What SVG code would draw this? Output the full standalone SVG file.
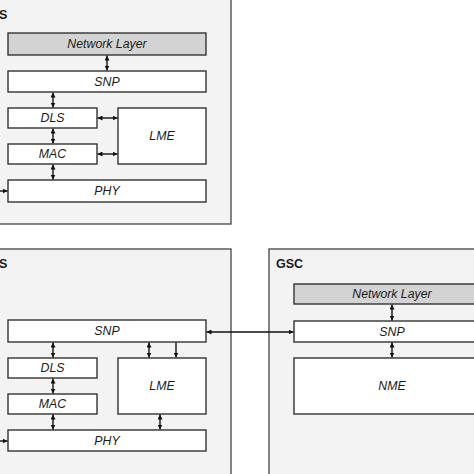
<svg xmlns="http://www.w3.org/2000/svg" width="474" height="474" viewBox="0 0 474 474">
<defs>
<marker id="ah" viewBox="0 0 10 10" refX="10" refY="5" markerWidth="5" markerHeight="5" orient="auto-start-reverse" markerUnits="userSpaceOnUse"><path d="M0,0 L10,5 L0,10 z" fill="#111"/></marker>
</defs>
<style>
.cont{fill:#f3f3f3;stroke:#444;stroke-width:1.3}
.box{fill:#fff;stroke:#333;stroke-width:1.4}
.net{fill:#d3d3d3;stroke:#333;stroke-width:1.4}
.t{font-family:"Liberation Sans",Arial,sans-serif;font-style:italic;font-size:12.3px;fill:#1a1a1a;text-anchor:middle;dominant-baseline:central}
.h{font-family:"Liberation Sans",Arial,sans-serif;font-weight:bold;font-size:12.5px;fill:#1a1a1a}
.c line{stroke:#111;stroke-width:1.4}
.b{marker-start:url(#ah);marker-end:url(#ah)}
.s{marker-end:url(#ah)}
</style>
<rect width="474" height="474" fill="#fff"/>
<g id="container-top">
<rect class="cont" x="-10" y="-10" width="241" height="234"/>
<text class="h" x="-1" y="19">S</text>
</g>
<g id="container-bottom">
<rect class="cont" x="-10" y="249" width="241" height="240"/>
<text class="h" x="-1" y="268">S</text>
</g>
<g id="container-gsc">
<rect class="cont" x="269" y="249" width="220" height="240"/>
<text class="h" x="276" y="268">GSC</text>
</g>
<g id="top-net"><rect class="net" x="8" y="33" width="198" height="22"/><text class="t" x="107" y="44">Network Layer</text></g>
<g id="top-snp"><rect class="box" x="8" y="71" width="198" height="21"/><text class="t" x="107" y="81.5">SNP</text></g>
<g id="top-dls"><rect class="box" x="8" y="108" width="89" height="20"/><text class="t" x="52.5" y="118">DLS</text></g>
<g id="top-mac"><rect class="box" x="8" y="144" width="89" height="20"/><text class="t" x="52.5" y="154">MAC</text></g>
<g id="top-lme"><rect class="box" x="118" y="108" width="88" height="56"/><text class="t" x="162" y="136">LME</text></g>
<g id="top-phy"><rect class="box" x="8" y="180" width="198" height="22"/><text class="t" x="107" y="191">PHY</text></g>
<g id="bot-snp"><rect class="box" x="8" y="320" width="198" height="22"/><text class="t" x="107" y="331">SNP</text></g>
<g id="bot-dls"><rect class="box" x="8" y="358" width="89" height="20"/><text class="t" x="52.5" y="368">DLS</text></g>
<g id="bot-mac"><rect class="box" x="8" y="394" width="89" height="20"/><text class="t" x="52.5" y="404">MAC</text></g>
<g id="bot-lme"><rect class="box" x="118" y="358" width="88" height="56"/><text class="t" x="162" y="386">LME</text></g>
<g id="bot-phy"><rect class="box" x="8" y="430" width="198" height="21"/><text class="t" x="107" y="440.5">PHY</text></g>
<g id="gsc-net"><rect class="net" x="294" y="284" width="196" height="20"/><text class="t" x="392" y="294">Network Layer</text></g>
<g id="gsc-snp"><rect class="box" x="294" y="321" width="196" height="21"/><text class="t" x="392" y="331.5">SNP</text></g>
<g id="gsc-nme"><rect class="box" x="294" y="358" width="196" height="56"/><text class="t" x="392" y="386">NME</text></g>
<g id="connectors" class="c">
<line class="b" x1="107" y1="55.5" x2="107" y2="70.5"/>
<line class="b" x1="53" y1="92.5" x2="53" y2="107.5"/>
<line class="b" x1="53" y1="128.5" x2="53" y2="143.5"/>
<line class="b" x1="53" y1="164.5" x2="53" y2="179.5"/>
<line class="b" x1="97.5" y1="118" x2="117.5" y2="118"/>
<line class="b" x1="97.5" y1="154" x2="117.5" y2="154"/>
<line class="s" x1="0" y1="191" x2="7.5" y2="191"/>
<line class="b" x1="53" y1="342.5" x2="53" y2="357.5"/>
<line class="b" x1="53" y1="378.5" x2="53" y2="393.5"/>
<line class="b" x1="53" y1="414.5" x2="53" y2="429.5"/>
<line class="b" x1="149" y1="342.5" x2="149" y2="357.5"/>
<line class="s" x1="176" y1="342.5" x2="176" y2="357.5"/>
<line class="b" x1="160" y1="414.5" x2="160" y2="429.5"/>
<line class="s" x1="0" y1="441" x2="7.5" y2="441"/>
<line class="b" x1="206.5" y1="332" x2="293.5" y2="332"/>
<line class="b" x1="392" y1="304.5" x2="392" y2="320.5"/>
<line class="b" x1="392" y1="342.5" x2="392" y2="357.5"/>
</g>
</svg>
